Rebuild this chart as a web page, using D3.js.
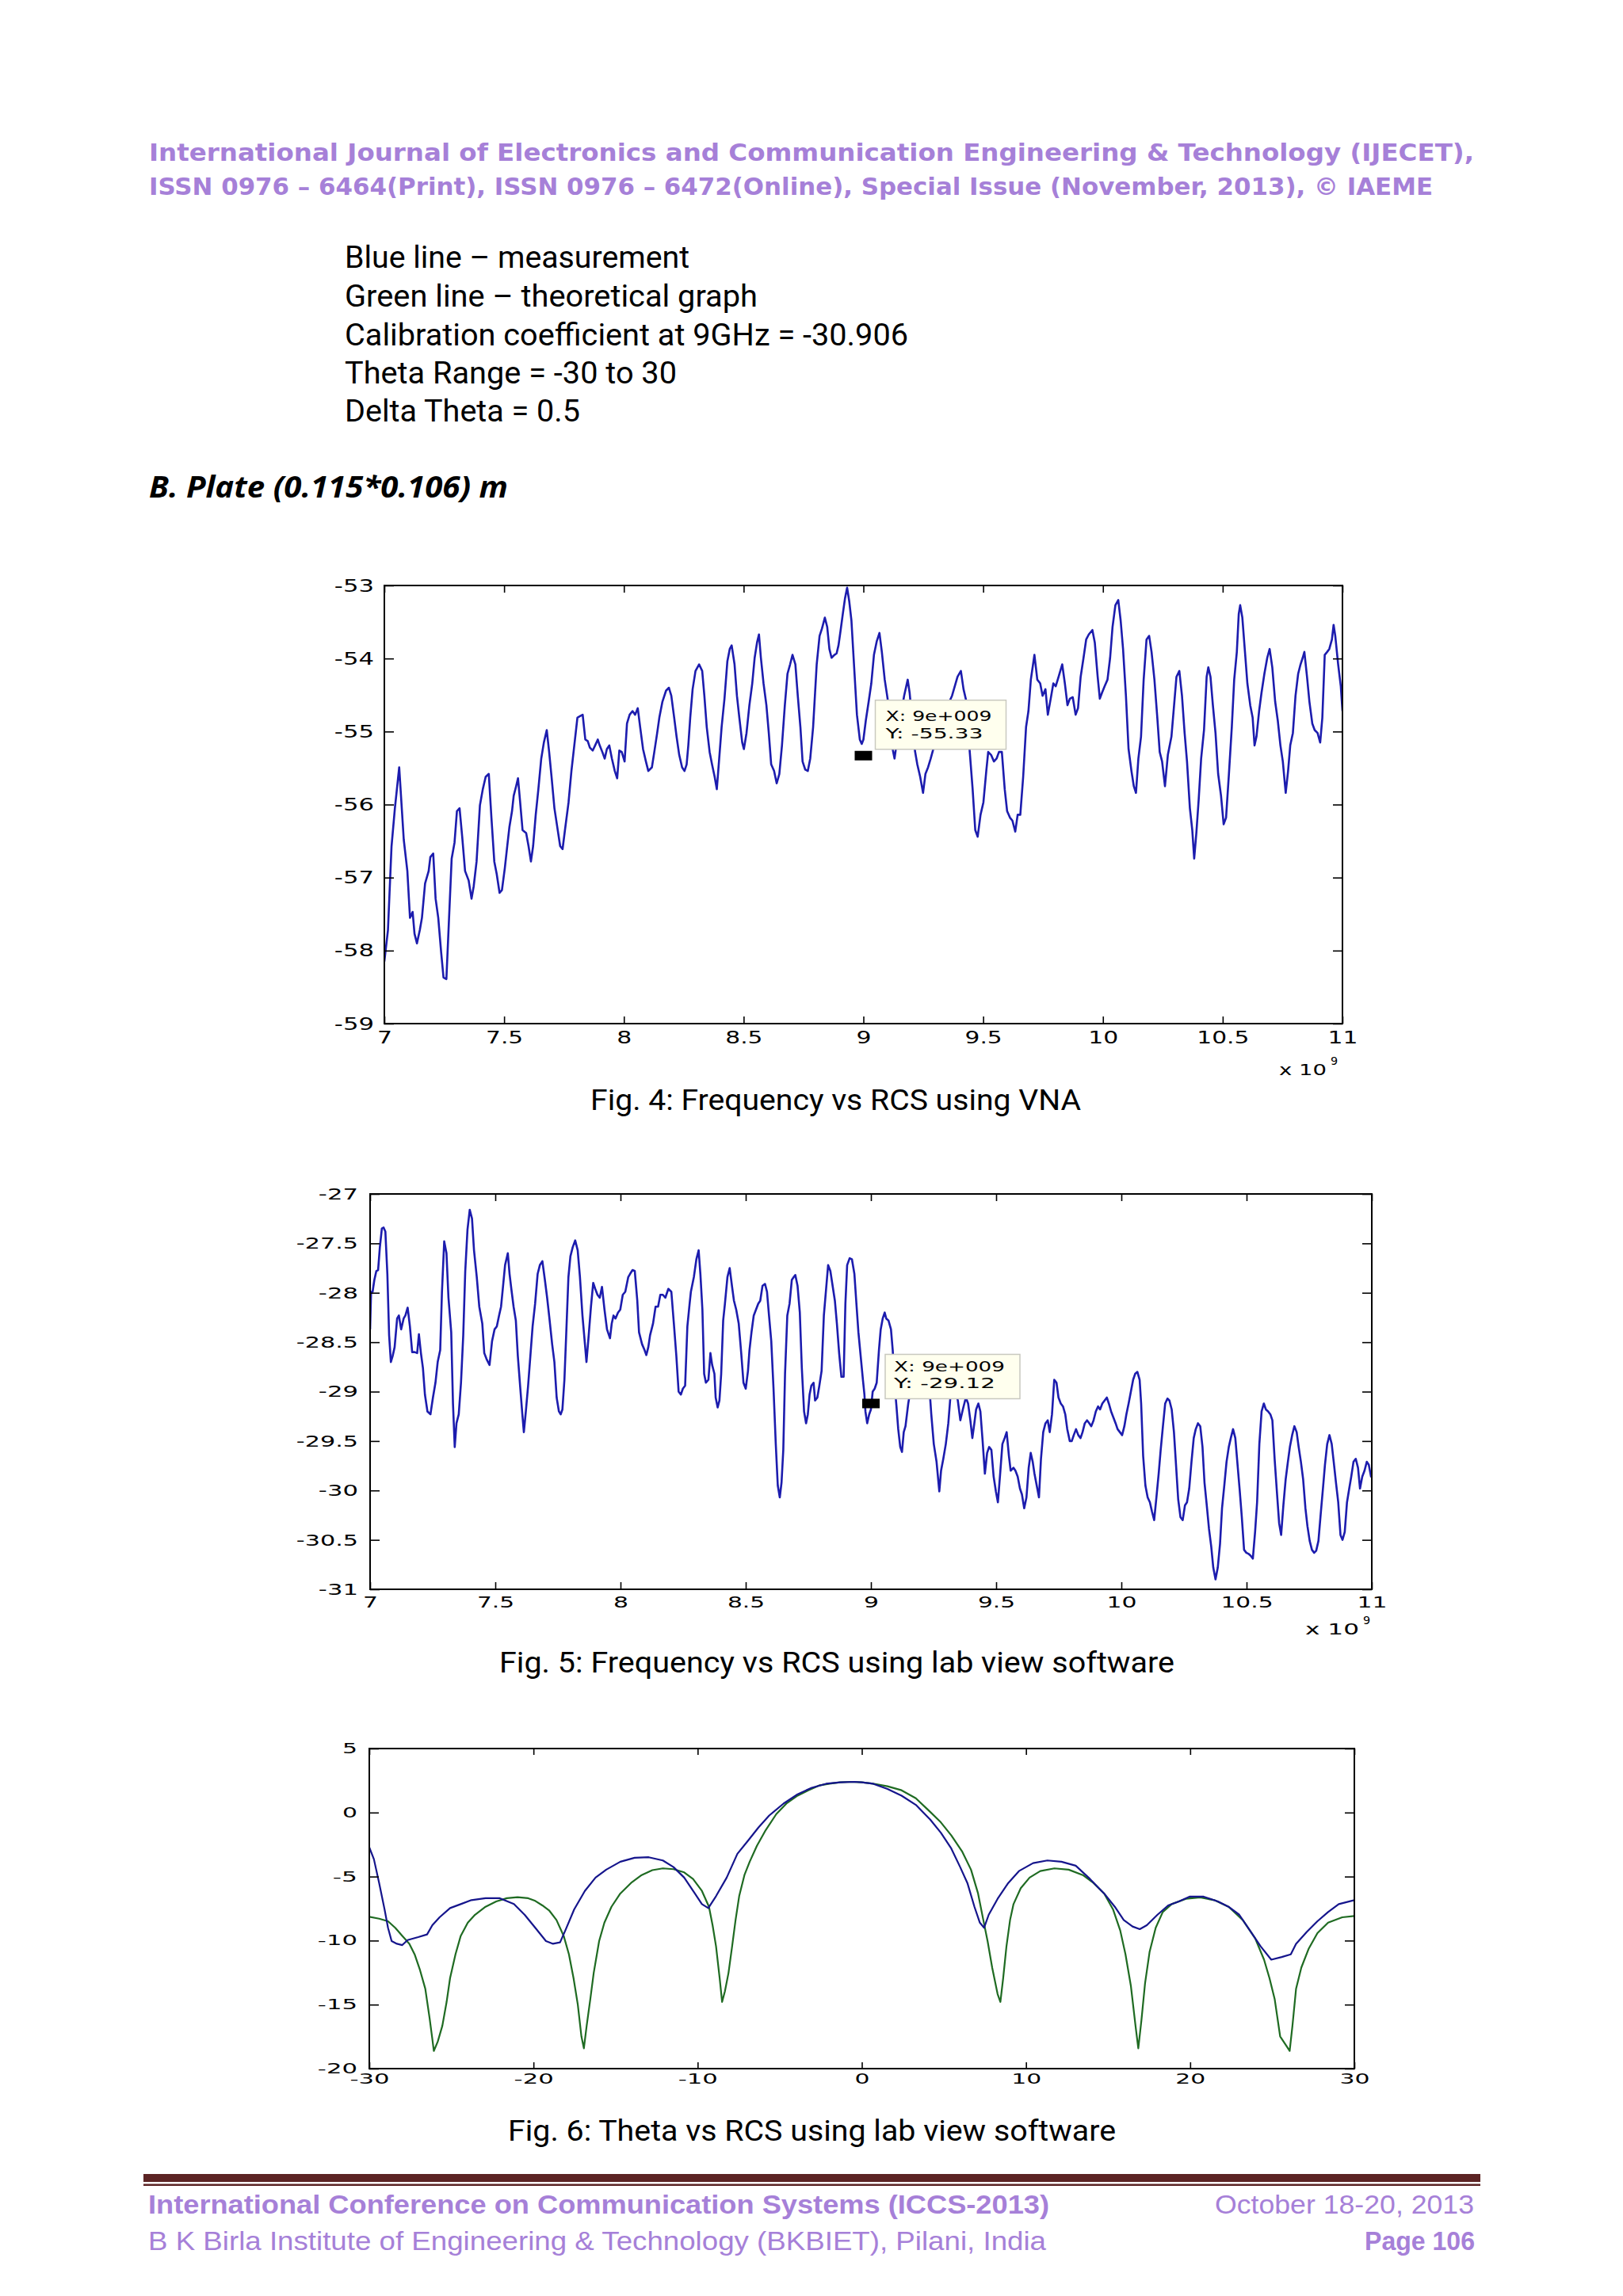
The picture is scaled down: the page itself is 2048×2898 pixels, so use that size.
<!DOCTYPE html>
<html>
<head>
<meta charset="utf-8">
<script src="https://cdn.jsdelivr.net/npm/d3@7"></script>
<style>
  body { margin: 0; background: #fff; }
  svg { display: block; }
</style>
</head>
<body>
<svg id="page" width="2048" height="2898"></svg>
<script>
// page text
var headerLines = [
  "International Journal of Electronics and Communication Engineering & Technology (IJECET),",
  "ISSN 0976 \u2013 6464(Print), ISSN 0976 \u2013 6472(Online), Special Issue (November, 2013), \u00a9 IAEME"
];
var notes = [
  "Blue line \u2013 measurement",
  "Green line \u2013 theoretical graph",
  "Calibration coefficient at 9GHz = -30.906",
  "Theta Range = -30 to 30",
  "Delta Theta = 0.5"
];
var sectionTitle = "B. Plate (0.115*0.106) m";
var captions = [
  "Fig. 4: Frequency vs RCS using VNA",
  "Fig. 5: Frequency vs RCS using lab view software",
  "Fig. 6: Theta vs RCS using lab view software"
];
var footerLeft = ["International Conference on Communication Systems (ICCS-2013)",
                  "B K Birla Institute of Engineering & Technology (BKBIET), Pilani, India"];
var footerRight = ["October 18-20, 2013", "Page 106"];

// Fig. 4 : frequency (GHz) vs RCS (dB), VNA
var fig4Points = [[7.000,-58.15],[7.015,-57.72],[7.030,-56.57],[7.044,-56.05],[7.062,-55.49],[7.081,-56.48],[7.096,-56.91],[7.107,-57.55],[7.118,-57.47],[7.126,-57.77],[7.136,-57.90],[7.148,-57.72],[7.157,-57.55],[7.170,-57.08],[7.185,-56.91],[7.192,-56.72],[7.204,-56.67],[7.214,-57.29],[7.225,-57.55],[7.237,-58.02],[7.247,-58.37],[7.259,-58.39],[7.269,-57.64],[7.281,-56.74],[7.293,-56.52],[7.303,-56.09],[7.314,-56.05],[7.325,-56.44],[7.337,-56.91],[7.352,-57.04],[7.364,-57.29],[7.373,-57.12],[7.385,-56.78],[7.399,-56.01],[7.411,-55.79],[7.423,-55.62],[7.436,-55.58],[7.447,-56.18],[7.459,-56.78],[7.469,-56.95],[7.481,-57.21],[7.491,-57.17],[7.503,-56.87],[7.513,-56.57],[7.522,-56.31],[7.533,-56.09],[7.540,-55.88],[7.550,-55.75],[7.558,-55.64],[7.567,-55.97],[7.577,-56.35],[7.592,-56.39],[7.602,-56.57],[7.612,-56.78],[7.621,-56.57],[7.632,-56.14],[7.643,-55.79],[7.655,-55.37],[7.666,-55.15],[7.678,-54.98],[7.688,-55.28],[7.698,-55.62],[7.710,-56.05],[7.722,-56.31],[7.734,-56.57],[7.744,-56.61],[7.754,-56.35],[7.769,-55.97],[7.781,-55.54],[7.793,-55.19],[7.806,-54.81],[7.817,-54.79],[7.828,-54.77],[7.839,-55.11],[7.849,-55.13],[7.858,-55.22],[7.870,-55.26],[7.880,-55.19],[7.891,-55.11],[7.899,-55.19],[7.910,-55.28],[7.920,-55.37],[7.929,-55.24],[7.939,-55.19],[7.950,-55.37],[7.962,-55.54],[7.972,-55.64],[7.981,-55.26],[7.991,-55.28],[8.003,-55.41],[8.013,-54.89],[8.024,-54.77],[8.036,-54.72],[8.047,-54.77],[8.058,-54.68],[8.068,-54.94],[8.080,-55.24],[8.092,-55.41],[8.102,-55.54],[8.117,-55.49],[8.127,-55.28],[8.139,-55.02],[8.148,-54.81],[8.161,-54.59],[8.176,-54.44],[8.188,-54.40],[8.198,-54.51],[8.210,-54.81],[8.220,-55.07],[8.231,-55.32],[8.243,-55.49],[8.253,-55.54],[8.262,-55.45],[8.269,-55.19],[8.277,-54.81],[8.287,-54.42],[8.299,-54.17],[8.314,-54.08],[8.327,-54.17],[8.336,-54.51],[8.346,-54.94],[8.358,-55.28],[8.368,-55.45],[8.379,-55.62],[8.388,-55.79],[8.398,-55.37],[8.408,-54.94],[8.420,-54.55],[8.432,-54.04],[8.442,-53.87],[8.450,-53.82],[8.462,-54.08],[8.472,-54.51],[8.482,-54.81],[8.494,-55.15],[8.501,-55.24],[8.512,-55.02],[8.524,-54.64],[8.536,-54.34],[8.546,-53.99],[8.556,-53.78],[8.564,-53.67],[8.572,-53.99],[8.583,-54.34],[8.595,-54.64],[8.605,-55.02],[8.615,-55.45],[8.627,-55.54],[8.638,-55.71],[8.649,-55.58],[8.660,-55.19],[8.672,-54.64],[8.683,-54.21],[8.694,-54.08],[8.704,-53.95],[8.716,-54.08],[8.726,-54.51],[8.737,-54.94],[8.746,-55.41],[8.757,-55.52],[8.768,-55.54],[8.778,-55.37],[8.790,-54.94],[8.805,-54.08],[8.817,-53.69],[8.827,-53.59],[8.839,-53.44],[8.849,-53.57],[8.858,-53.87],[8.867,-53.99],[8.879,-53.95],[8.888,-53.93],[8.896,-53.82],[8.905,-53.61],[8.914,-53.39],[8.923,-53.18],[8.932,-53.03],[8.941,-53.22],[8.950,-53.48],[8.963,-54.21],[8.973,-54.77],[8.985,-55.11],[8.993,-55.17],[9.000,-55.11],[9.010,-54.85],[9.022,-54.59],[9.033,-54.34],[9.044,-53.95],[9.056,-53.76],[9.067,-53.65],[9.077,-53.91],[9.089,-54.29],[9.101,-54.55],[9.119,-55.19],[9.130,-55.37],[9.148,-54.94],[9.170,-54.51],[9.185,-54.29],[9.193,-54.47],[9.215,-55.26],[9.225,-55.45],[9.237,-55.62],[9.249,-55.84],[9.259,-55.58],[9.270,-55.49],[9.281,-55.37],[9.296,-55.19],[9.311,-54.94],[9.341,-54.72],[9.370,-54.51],[9.393,-54.25],[9.407,-54.17],[9.418,-54.42],[9.430,-54.59],[9.444,-55.28],[9.456,-55.79],[9.467,-56.35],[9.477,-56.44],[9.489,-56.14],[9.501,-55.97],[9.513,-55.54],[9.521,-55.28],[9.533,-55.32],[9.545,-55.41],[9.556,-55.37],[9.566,-55.28],[9.578,-55.28],[9.590,-55.79],[9.600,-56.09],[9.612,-56.18],[9.622,-56.22],[9.634,-56.37],[9.644,-56.14],[9.655,-56.14],[9.667,-55.62],[9.679,-54.94],[9.689,-54.72],[9.699,-54.29],[9.714,-53.95],[9.726,-54.29],[9.738,-54.34],[9.748,-54.51],[9.760,-54.42],[9.770,-54.77],[9.782,-54.55],[9.793,-54.34],[9.803,-54.38],[9.815,-54.25],[9.830,-54.08],[9.841,-54.34],[9.852,-54.64],[9.862,-54.55],[9.874,-54.53],[9.886,-54.77],[9.896,-54.68],[9.907,-54.25],[9.919,-53.99],[9.930,-53.74],[9.941,-53.67],[9.956,-53.61],[9.966,-53.78],[9.978,-54.25],[9.987,-54.55],[9.996,-54.47],[10.007,-54.38],[10.019,-54.29],[10.030,-53.99],[10.040,-53.57],[10.052,-53.27],[10.064,-53.20],[10.074,-53.48],[10.084,-53.87],[10.096,-54.51],[10.107,-55.24],[10.119,-55.54],[10.129,-55.75],[10.138,-55.84],[10.148,-55.37],[10.159,-55.07],[10.170,-54.29],[10.182,-53.74],[10.193,-53.69],[10.203,-53.91],[10.215,-54.29],[10.227,-54.81],[10.237,-55.28],[10.247,-55.41],[10.259,-55.75],[10.271,-55.32],[10.286,-55.07],[10.296,-54.68],[10.307,-54.25],[10.319,-54.17],[10.330,-54.51],[10.341,-55.02],[10.351,-55.41],[10.363,-56.05],[10.373,-56.35],[10.381,-56.74],[10.390,-56.39],[10.400,-55.92],[10.410,-55.37],[10.422,-54.98],[10.433,-54.25],[10.440,-54.12],[10.449,-54.25],[10.459,-54.64],[10.470,-55.02],[10.481,-55.58],[10.493,-55.88],[10.504,-56.27],[10.514,-56.18],[10.526,-55.58],[10.538,-54.94],[10.548,-54.29],[10.559,-53.91],[10.567,-53.39],[10.573,-53.27],[10.582,-53.44],[10.593,-53.91],[10.603,-54.34],[10.615,-54.64],[10.625,-54.81],[10.633,-55.19],[10.641,-55.07],[10.652,-54.72],[10.662,-54.47],[10.674,-54.21],[10.686,-53.99],[10.696,-53.87],[10.707,-54.12],[10.719,-54.59],[10.730,-54.85],[10.741,-55.19],[10.751,-55.41],[10.763,-55.84],[10.773,-55.54],[10.782,-55.19],[10.793,-55.02],[10.804,-54.51],[10.815,-54.21],[10.825,-54.08],[10.834,-53.99],[10.841,-53.91],[10.852,-54.25],[10.862,-54.59],[10.874,-54.89],[10.884,-54.98],[10.896,-55.02],[10.907,-55.15],[10.916,-54.81],[10.926,-53.95],[10.936,-53.91],[10.945,-53.87],[10.956,-53.74],[10.963,-53.54],[10.970,-53.69],[10.982,-54.08],[10.993,-54.38],[11.000,-54.72]];

// Fig. 5 : frequency (GHz) vs RCS (dB), lab view software
var fig5Points = [[7.000,-28.37],[7.004,-27.99],[7.010,-27.99],[7.017,-27.87],[7.025,-27.78],[7.032,-27.77],[7.039,-27.54],[7.047,-27.35],[7.054,-27.34],[7.061,-27.38],[7.069,-27.81],[7.076,-28.43],[7.083,-28.70],[7.090,-28.64],[7.098,-28.55],[7.108,-28.26],[7.115,-28.23],[7.124,-28.37],[7.134,-28.26],[7.141,-28.23],[7.150,-28.15],[7.159,-28.34],[7.168,-28.60],[7.178,-28.60],[7.188,-28.61],[7.195,-28.42],[7.203,-28.61],[7.211,-28.76],[7.219,-29.03],[7.229,-29.20],[7.241,-29.23],[7.251,-29.06],[7.261,-28.91],[7.270,-28.70],[7.280,-28.58],[7.287,-27.99],[7.296,-27.48],[7.305,-27.60],[7.313,-28.05],[7.324,-28.40],[7.331,-29.12],[7.338,-29.56],[7.345,-29.32],[7.354,-29.23],[7.363,-28.91],[7.372,-28.43],[7.380,-27.78],[7.389,-27.36],[7.398,-27.16],[7.407,-27.25],[7.415,-27.57],[7.426,-27.84],[7.436,-28.14],[7.448,-28.31],[7.456,-28.61],[7.465,-28.67],[7.477,-28.73],[7.487,-28.49],[7.497,-28.37],[7.506,-28.34],[7.515,-28.23],[7.523,-28.14],[7.531,-27.93],[7.539,-27.72],[7.550,-27.60],[7.557,-27.81],[7.564,-27.96],[7.573,-28.14],[7.582,-28.28],[7.590,-28.64],[7.599,-28.94],[7.608,-29.23],[7.614,-29.41],[7.622,-29.20],[7.631,-28.94],[7.640,-28.64],[7.649,-28.34],[7.659,-28.11],[7.669,-27.81],[7.678,-27.72],[7.688,-27.68],[7.698,-27.87],[7.707,-28.05],[7.717,-28.28],[7.727,-28.52],[7.736,-28.70],[7.745,-29.06],[7.754,-29.20],[7.761,-29.23],[7.768,-29.18],[7.776,-28.88],[7.783,-28.43],[7.792,-27.84],[7.800,-27.63],[7.809,-27.54],[7.819,-27.47],[7.829,-27.57],[7.838,-27.84],[7.848,-28.23],[7.859,-28.55],[7.864,-28.70],[7.873,-28.43],[7.882,-28.14],[7.891,-27.90],[7.899,-27.96],[7.908,-28.02],[7.917,-28.05],[7.926,-27.94],[7.936,-28.17],[7.946,-28.37],[7.958,-28.46],[7.965,-28.31],[7.972,-28.23],[7.980,-28.26],[7.990,-28.20],[7.999,-28.17],[8.009,-28.02],[8.019,-27.99],[8.031,-27.84],[8.038,-27.81],[8.048,-27.77],[8.057,-27.78],[8.067,-28.08],[8.074,-28.40],[8.086,-28.52],[8.096,-28.58],[8.103,-28.63],[8.111,-28.55],[8.118,-28.43],[8.130,-28.31],[8.140,-28.14],[8.150,-28.14],[8.159,-28.02],[8.169,-28.02],[8.179,-28.05],[8.191,-27.96],[8.203,-27.99],[8.213,-28.31],[8.223,-28.64],[8.232,-29.00],[8.241,-29.03],[8.249,-28.97],[8.258,-28.94],[8.267,-28.34],[8.276,-28.11],[8.281,-27.99],[8.293,-27.84],[8.303,-27.66],[8.312,-27.57],[8.319,-27.81],[8.327,-28.17],[8.334,-28.82],[8.341,-28.91],[8.351,-28.88],[8.359,-28.61],[8.366,-28.73],[8.375,-28.82],[8.380,-29.06],[8.388,-29.16],[8.395,-29.09],[8.402,-28.82],[8.410,-28.28],[8.417,-28.11],[8.427,-27.84],[8.436,-27.75],[8.445,-27.93],[8.453,-28.08],[8.462,-28.17],[8.472,-28.31],[8.482,-28.61],[8.491,-28.91],[8.500,-28.97],[8.509,-28.79],[8.515,-28.58],[8.523,-28.40],[8.532,-28.23],[8.541,-28.17],[8.550,-28.11],[8.558,-28.08],[8.567,-27.93],[8.577,-27.91],[8.585,-27.99],[8.593,-28.23],[8.602,-28.49],[8.611,-28.97],[8.620,-29.53],[8.628,-29.95],[8.636,-30.07],[8.643,-29.92],[8.650,-29.59],[8.657,-28.82],[8.666,-28.23],[8.675,-28.11],[8.684,-27.87],[8.692,-27.84],[8.698,-27.82],[8.707,-27.93],[8.716,-28.20],[8.724,-28.76],[8.733,-29.20],[8.741,-29.32],[8.748,-29.23],[8.755,-29.03],[8.762,-28.94],[8.771,-28.91],[8.777,-29.09],[8.786,-29.06],[8.794,-28.94],[8.803,-28.79],[8.812,-28.23],[8.821,-27.96],[8.829,-27.72],[8.838,-27.78],[8.847,-27.93],[8.856,-28.08],[8.864,-28.31],[8.873,-28.61],[8.882,-28.85],[8.891,-28.85],[8.898,-28.11],[8.905,-27.72],[8.915,-27.65],[8.924,-27.66],[8.934,-27.81],[8.942,-28.11],[8.950,-28.40],[8.959,-28.64],[8.968,-28.88],[8.974,-29.03],[8.978,-29.20],[8.985,-29.32],[8.993,-29.23],[9.000,-29.18],[9.007,-29.00],[9.015,-28.97],[9.023,-28.91],[9.032,-28.58],[9.039,-28.37],[9.047,-28.26],[9.055,-28.20],[9.061,-28.26],[9.070,-28.28],[9.080,-28.37],[9.087,-28.58],[9.095,-28.94],[9.102,-29.15],[9.109,-29.38],[9.117,-29.56],[9.124,-29.61],[9.131,-29.41],[9.138,-29.35],[9.149,-29.12],[9.157,-29.00],[9.175,-28.94],[9.204,-28.88],[9.233,-28.94],[9.241,-29.23],[9.251,-29.53],[9.262,-29.71],[9.273,-30.01],[9.280,-29.80],[9.289,-29.68],[9.299,-29.53],[9.309,-29.32],[9.318,-29.03],[9.328,-29.00],[9.338,-29.00],[9.347,-29.09],[9.357,-29.29],[9.367,-29.18],[9.379,-29.06],[9.388,-29.12],[9.397,-29.29],[9.405,-29.47],[9.413,-29.32],[9.420,-29.18],[9.429,-29.12],[9.437,-29.20],[9.446,-29.50],[9.455,-29.83],[9.464,-29.62],[9.472,-29.56],[9.481,-29.59],[9.490,-29.86],[9.499,-30.01],[9.507,-30.12],[9.516,-29.83],[9.525,-29.53],[9.534,-29.47],[9.542,-29.41],[9.551,-29.65],[9.558,-29.80],[9.569,-29.77],[9.577,-29.80],[9.586,-29.86],[9.595,-29.98],[9.603,-30.04],[9.612,-30.18],[9.621,-30.07],[9.630,-29.77],[9.638,-29.62],[9.646,-29.71],[9.653,-29.83],[9.662,-29.95],[9.671,-30.07],[9.679,-29.68],[9.688,-29.41],[9.697,-29.32],[9.706,-29.29],[9.714,-29.41],[9.723,-29.23],[9.732,-28.88],[9.741,-28.91],[9.749,-29.06],[9.758,-29.12],[9.767,-29.15],[9.776,-29.23],[9.784,-29.38],[9.794,-29.50],[9.802,-29.50],[9.810,-29.44],[9.819,-29.38],[9.828,-29.44],[9.837,-29.47],[9.845,-29.41],[9.854,-29.32],[9.863,-29.29],[9.872,-29.32],[9.880,-29.35],[9.889,-29.29],[9.898,-29.20],[9.907,-29.15],[9.915,-29.18],[9.924,-29.12],[9.933,-29.09],[9.942,-29.06],[9.950,-29.12],[9.959,-29.20],[9.968,-29.26],[9.977,-29.32],[9.985,-29.38],[9.994,-29.41],[10.003,-29.44],[10.012,-29.35],[10.020,-29.23],[10.029,-29.12],[10.038,-29.00],[10.047,-28.88],[10.055,-28.82],[10.064,-28.80],[10.073,-28.88],[10.079,-29.12],[10.087,-29.65],[10.096,-29.95],[10.105,-30.07],[10.114,-30.12],[10.122,-30.21],[10.131,-30.30],[10.140,-30.07],[10.149,-29.83],[10.157,-29.59],[10.166,-29.35],[10.175,-29.12],[10.184,-29.07],[10.192,-29.09],[10.201,-29.18],[10.210,-29.41],[10.219,-29.77],[10.227,-30.09],[10.236,-30.27],[10.245,-30.30],[10.254,-30.15],[10.262,-30.12],[10.271,-29.98],[10.280,-29.71],[10.289,-29.47],[10.297,-29.38],[10.306,-29.32],[10.315,-29.35],[10.324,-29.56],[10.332,-29.92],[10.341,-30.15],[10.350,-30.39],[10.359,-30.57],[10.367,-30.78],[10.376,-30.90],[10.385,-30.78],[10.394,-30.54],[10.402,-30.18],[10.411,-29.95],[10.420,-29.71],[10.429,-29.56],[10.437,-29.47],[10.446,-29.38],[10.455,-29.47],[10.464,-29.74],[10.472,-29.98],[10.481,-30.27],[10.490,-30.60],[10.499,-30.63],[10.507,-30.64],[10.516,-30.66],[10.525,-30.69],[10.534,-30.42],[10.542,-30.12],[10.551,-29.53],[10.560,-29.20],[10.569,-29.12],[10.577,-29.18],[10.586,-29.20],[10.595,-29.23],[10.603,-29.29],[10.612,-29.68],[10.621,-30.01],[10.630,-30.33],[10.638,-30.45],[10.647,-30.15],[10.656,-29.89],[10.665,-29.71],[10.673,-29.56],[10.682,-29.44],[10.691,-29.35],[10.700,-29.41],[10.708,-29.56],[10.717,-29.71],[10.726,-29.89],[10.735,-30.18],[10.743,-30.36],[10.752,-30.51],[10.761,-30.60],[10.770,-30.63],[10.778,-30.61],[10.787,-30.51],[10.796,-30.24],[10.805,-29.98],[10.813,-29.74],[10.822,-29.53],[10.831,-29.44],[10.840,-29.53],[10.848,-29.71],[10.857,-29.92],[10.866,-30.12],[10.875,-30.45],[10.883,-30.50],[10.892,-30.42],[10.901,-30.12],[10.910,-29.98],[10.918,-29.86],[10.927,-29.71],[10.936,-29.68],[10.945,-29.77],[10.953,-29.98],[10.962,-29.86],[10.971,-29.80],[10.980,-29.71],[10.988,-29.74],[10.997,-29.86],[11.000,-29.80]];

// Fig. 6 : theta (deg) vs RCS (dB)
var fig6Measured = [[-30.00,-2.71],[-29.72,-3.64],[-29.40,-5.50],[-29.07,-7.56],[-28.86,-9.00],[-28.64,-10.04],[-28.32,-10.25],[-27.99,-10.35],[-27.67,-9.96],[-27.02,-9.73],[-26.48,-9.52],[-26.16,-8.80],[-25.72,-8.18],[-25.08,-7.46],[-24.43,-7.15],[-23.78,-6.84],[-22.92,-6.69],[-22.05,-6.69],[-21.19,-7.15],[-20.54,-7.98],[-19.89,-9.00],[-19.24,-10.04],[-18.81,-10.25],[-18.38,-10.14],[-18.06,-9.21],[-17.52,-7.56],[-16.87,-6.12],[-16.22,-5.08],[-15.57,-4.46],[-14.71,-3.84],[-13.84,-3.53],[-12.98,-3.49],[-12.12,-3.74],[-11.47,-4.26],[-10.82,-5.08],[-10.17,-6.32],[-9.74,-7.15],[-9.35,-7.46],[-8.88,-6.53],[-8.23,-5.08],[-7.58,-3.22],[-6.93,-2.19],[-6.29,-1.16],[-5.64,-0.23],[-4.77,0.70],[-3.91,1.43],[-3.05,1.94],[-2.18,2.25],[-1.32,2.36],[-0.45,2.40],[0.00,2.36],[0.69,2.25],[1.56,1.84],[2.42,1.32],[3.29,0.60],[4.16,-0.54],[4.81,-1.57],[5.45,-2.81],[5.99,-4.26],[6.43,-5.50],[6.86,-7.36],[7.19,-8.60],[7.45,-9.00],[7.73,-7.98],[8.27,-6.74],[8.92,-5.50],[9.57,-4.57],[10.43,-3.95],[11.30,-3.74],[12.16,-3.84],[13.03,-4.15],[13.90,-5.19],[14.76,-6.32],[15.41,-7.36],[15.95,-8.39],[16.49,-8.90],[16.93,-9.11],[17.36,-8.80],[18.01,-7.98],[18.66,-7.25],[19.31,-6.94],[19.96,-6.57],[20.82,-6.57],[21.69,-6.94],[22.34,-7.36],[22.99,-7.98],[23.64,-9.21],[24.29,-10.45],[24.94,-11.49],[25.58,-11.28],[26.13,-11.07],[26.45,-10.25],[27.10,-9.32],[27.75,-8.49],[28.40,-7.77],[29.05,-7.15],[30.00,-6.84]];
var fig6Theory = [[-30.00,-8.14],[-29.40,-8.29],[-28.86,-8.49],[-28.42,-9.00],[-27.99,-9.63],[-27.56,-10.25],[-27.24,-11.07],[-26.91,-12.31],[-26.59,-13.76],[-26.33,-16.03],[-26.16,-17.69],[-26.07,-18.62],[-25.83,-17.89],[-25.55,-16.65],[-25.29,-14.79],[-25.08,-12.93],[-24.75,-11.07],[-24.43,-9.63],[-24.00,-8.60],[-23.56,-7.98],[-22.92,-7.36],[-22.27,-6.94],[-21.62,-6.69],[-20.97,-6.61],[-20.32,-6.69],[-19.89,-6.90],[-19.46,-7.25],[-19.03,-7.67],[-18.60,-8.39],[-18.16,-9.63],[-17.84,-11.07],[-17.56,-12.93],[-17.30,-15.00],[-17.08,-17.48],[-16.93,-18.41],[-16.76,-16.65],[-16.54,-14.59],[-16.33,-12.52],[-16.00,-10.04],[-15.68,-8.60],[-15.25,-7.36],[-14.71,-6.32],[-14.06,-5.50],[-13.41,-4.88],[-12.76,-4.50],[-12.12,-4.36],[-11.47,-4.42],[-10.82,-4.67],[-10.28,-5.19],[-9.74,-6.12],[-9.31,-7.36],[-9.09,-8.80],[-8.88,-10.45],[-8.66,-12.93],[-8.51,-14.79],[-8.34,-13.97],[-8.12,-12.52],[-7.90,-10.45],[-7.69,-8.39],[-7.47,-6.53],[-7.15,-4.88],[-6.83,-3.84],[-6.39,-2.60],[-5.85,-1.36],[-5.21,-0.12],[-4.56,0.74],[-3.91,1.32],[-3.26,1.74],[-2.61,2.11],[-1.97,2.25],[-1.32,2.36],[-0.67,2.40],[0.00,2.36],[0.69,2.25],[1.56,2.05],[2.42,1.74],[3.29,1.12],[4.16,0.06],[4.81,-0.76],[5.45,-1.78],[6.10,-3.02],[6.65,-4.46],[7.08,-6.32],[7.40,-8.39],[7.66,-10.04],[7.94,-12.11],[8.27,-14.17],[8.44,-14.79],[8.61,-12.93],[8.81,-10.45],[9.03,-8.39],[9.24,-7.15],[9.68,-5.91],[10.22,-5.08],[10.87,-4.57],[11.73,-4.36],[12.60,-4.46],[13.46,-4.88],[14.11,-5.50],[14.76,-6.32],[15.30,-7.56],[15.74,-9.21],[16.06,-11.07],[16.39,-13.55],[16.67,-16.65],[16.84,-18.41],[17.03,-16.24],[17.25,-13.35],[17.53,-10.87],[17.90,-9.00],[18.33,-7.77],[18.87,-7.15],[19.74,-6.74],[20.61,-6.63],[21.47,-6.84],[22.34,-7.36],[23.20,-8.39],[23.96,-9.83],[24.50,-11.49],[24.83,-12.93],[25.15,-14.59],[25.48,-17.48],[25.80,-18.10],[26.06,-18.62],[26.23,-16.65],[26.45,-13.76],[26.77,-12.11],[27.21,-10.66],[27.75,-9.42],[28.40,-8.60],[29.26,-8.18],[30.00,-8.08]];

// ticks
var freqTicks = [7, 7.5, 8, 8.5, 9, 9.5, 10, 10.5, 11];
var fig4YTicks = [-53, -54, -55, -56, -57, -58, -59];
var fig5YTicks = [-27, -27.5, -28, -28.5, -29, -29.5, -30, -30.5, -31];
var thetaTicks = [-30, -20, -10, 0, 10, 20, 30];
var fig6YTicks = [5, 0, -5, -10, -15, -20];

// data tips
var fig4Tip = {x: 9, y: -55.33, lines: ["X: 9e+009", "Y: -55.33"]};
var fig5Tip = {x: 9, y: -29.12, lines: ["X: 9e+009", "Y: -29.12"]};

var purple = "#a680d8";
var svg = d3.select("#page");
svg.append("rect").attr("width", 2048).attr("height", 2898).attr("fill", "#fff");

// text squeezed / stretched to the width measured on the page
function fitText(str, x, y, w, size, family, weight, style, color, anchor) {
  return svg.append("text")
    .attr("x", x).attr("y", y)
    .attr("font-family", family)
    .attr("font-size", size)
    .attr("font-weight", weight || "normal")
    .attr("font-style", style || "normal")
    .attr("fill", color || "#000")
    .attr("text-anchor", anchor || "start")
    .attr("textLength", w)
    .attr("lengthAdjust", "spacingAndGlyphs")
    .text(str);
}

// header
var headFont = "'DejaVu Sans', Verdana, sans-serif";
fitText(headerLines[0], 188, 203, 1672, 31, headFont, "bold", null, purple);
fitText(headerLines[1], 188, 246, 1620, 31, headFont, "bold", null, purple);

// notes
var bodyFont = "Roboto, 'Open Sans', sans-serif";
var noteWidths = [435, 521, 711, 419, 297];
var noteBase = [338, 387, 436, 484, 532];
notes.forEach(function(s, i) {
  fitText(s, 435, noteBase[i], noteWidths[i], 38, bodyFont);
});
fitText(sectionTitle, 188, 628, 453, 38, "'Open Sans', Roboto, sans-serif", "bold", "italic");

// captions
var capX = [745, 630, 641], capW = [619, 852, 767], capY = [1401, 2111, 2702];
captions.forEach(function(s, i) {
  fitText(s, capX[i], capY[i], capW[i], 37, bodyFont);
});

// footer
var footFont = "'Liberation Sans', Arial, sans-serif";
svg.append("rect").attr("x", 181).attr("y", 2744).attr("width", 1687).attr("height", 10).attr("fill", "#5c2424");
svg.append("rect").attr("x", 181).attr("y", 2756.5).attr("width", 1687).attr("height", 2.5).attr("fill", "#5c2424");
fitText(footerLeft[0], 187, 2794, 1137, 33, footFont, "bold", null, purple);
fitText(footerLeft[1], 187, 2840, 1133, 33, footFont, "normal", null, purple);
fitText(footerRight[0], 1533, 2794, 327, 33, footFont, "normal", null, purple);
fitText(footerRight[1], 1722, 2840, 139, 33, footFont, "bold", null, purple);

// matlab-like tick labels: wide glyphs
var tickFont = "'DejaVu Sans', Verdana, sans-serif";
function labelWidth(s, dw) {
  var w = 0;
  for (var i = 0; i < s.length; i++) {
    var c = s.charAt(i);
    if (c === ".") w += dw * 0.48;
    else if (c === "-") w += dw * 0.64;
    else w += dw;
  }
  return w;
}

function drawChart(cfg) {
  var g = svg.append("g");
  var x = d3.scaleLinear().domain(cfg.xDomain).range([cfg.left, cfg.right]);
  var y = d3.scaleLinear().domain(cfg.yDomain).range([cfg.bottom, cfg.top]);
  var fmt = function(d) { return String(d); };

  var clipId = "clip-" + cfg.id;
  svg.append("clipPath").attr("id", clipId).append("rect")
    .attr("x", cfg.left).attr("y", cfg.top)
    .attr("width", cfg.right - cfg.left).attr("height", cfg.bottom - cfg.top);

  var line = d3.line()
    .x(function(d) { return x(d[0]); })
    .y(function(d) { return y(d[1]); });

  cfg.series.forEach(function(s) {
    g.append("path")
      .datum(s.data)
      .attr("clip-path", "url(#" + clipId + ")")
      .attr("fill", "none")
      .attr("stroke", s.color)
      .attr("stroke-width", s.width)
      .attr("stroke-linejoin", "round")
      .attr("d", line);
  });

  // data tip
  if (cfg.tip) {
    var t = cfg.tip, px = x(t.x), py = y(t.y);
    g.append("rect")
      .attr("x", px + t.dx).attr("y", py + t.dy)
      .attr("width", t.w).attr("height", t.h)
      .attr("fill", "#ffffee").attr("stroke", "#c9c9c0").attr("stroke-width", 1.5);
    t.lines.forEach(function(s, i) {
      g.append("text")
        .attr("x", px + t.dx + t.pad).attr("y", py + t.dy + t.base[i])
        .attr("font-family", tickFont).attr("font-size", t.size)
        .attr("textLength", t.tw[i]).attr("lengthAdjust", "spacingAndGlyphs")
        .attr("fill", "#000").text(s);
    });
    g.append("rect")
      .attr("x", px - 11).attr("y", py - 6)
      .attr("width", 22).attr("height", 12)
      .attr("fill", "#000");
  }

  function styleAxis(sel, withLabels) {
    sel.select(".domain").remove();
    sel.selectAll(".tick line").attr("stroke", "#000").attr("stroke-width", 1.6);
    sel.attr("font-family", tickFont).attr("font-size", cfg.fontSize);
    if (withLabels) {
      sel.selectAll(".tick text")
        .attr("fill", "#000")
        .each(function(d) {
          d3.select(this)
            .attr("textLength", labelWidth(fmt(d), cfg.digitW))
            .attr("lengthAdjust", "spacingAndGlyphs");
        });
    }
  }

  var ax = g.append("g").attr("transform", "translate(0," + cfg.bottom + ")")
    .call(d3.axisBottom(x).tickValues(cfg.xTicks).tickFormat(fmt)
      .tickSizeInner(-cfg.xTickLen).tickSizeOuter(0).tickPadding(cfg.xPad));
  styleAxis(ax, true);
  var axTop = g.append("g").attr("transform", "translate(0," + cfg.top + ")")
    .call(d3.axisTop(x).tickValues(cfg.xTicks).tickFormat("")
      .tickSizeInner(-cfg.xTickLen).tickSizeOuter(0));
  styleAxis(axTop, false);
  var ay = g.append("g").attr("transform", "translate(" + cfg.left + ",0)")
    .call(d3.axisLeft(y).tickValues(cfg.yTicks).tickFormat(fmt)
      .tickSizeInner(-cfg.yTickLen).tickSizeOuter(0).tickPadding(cfg.yPad));
  styleAxis(ay, true);
  var ayR = g.append("g").attr("transform", "translate(" + cfg.right + ",0)")
    .call(d3.axisRight(y).tickValues(cfg.yTicks).tickFormat("")
      .tickSizeInner(-cfg.yTickLen).tickSizeOuter(0));
  styleAxis(ayR, false);

  // plot frame
  g.append("rect")
    .attr("x", cfg.left).attr("y", cfg.top)
    .attr("width", cfg.right - cfg.left).attr("height", cfg.bottom - cfg.top)
    .attr("fill", "none").attr("stroke", "#000").attr("stroke-width", 2);

  // x 10^9 multiplier
  if (cfg.expo) {
    var e = cfg.expo;
    g.append("text").attr("x", e.x).attr("y", e.y)
      .attr("font-family", tickFont).attr("font-size", e.size)
      .attr("textLength", e.w).attr("lengthAdjust", "spacingAndGlyphs")
      .text("x 10");
    g.append("text").attr("x", e.x + e.w + 5).attr("y", e.y - 13)
      .attr("font-family", tickFont).attr("font-size", e.size * 0.72)
      .text("9");
  }
}

var blue = "#1c1cae";

drawChart({
  id: "fig4", left: 485, right: 1694, top: 739, bottom: 1292,
  xDomain: [7, 11], yDomain: [-59, -53],
  xTicks: freqTicks, yTicks: fig4YTicks,
  fontSize: 22, digitW: 19, xPad: 9, yPad: 13, xTickLen: 9, yTickLen: 12,
  series: [{data: fig4Points, color: blue, width: 2.6}],
  tip: {x: fig4Tip.x, y: fig4Tip.y, lines: fig4Tip.lines, dx: 15, dy: -70, w: 165, h: 62,
        pad: 13, base: [26, 48], size: 18, tw: [134, 123]},
  expo: {x: 1614, y: 1357, w: 60, size: 20}
});

drawChart({
  id: "fig5", left: 467, right: 1731, top: 1507, bottom: 2006,
  xDomain: [7, 11], yDomain: [-31, -27],
  xTicks: freqTicks, yTicks: fig5YTicks,
  fontSize: 20, digitW: 19, xPad: 9, yPad: 15, xTickLen: 9, yTickLen: 12,
  series: [{data: fig5Points, color: blue, width: 2.6}],
  tip: {x: fig5Tip.x, y: fig5Tip.y, lines: fig5Tip.lines, dx: 18, dy: -62, w: 170, h: 56,
        pad: 11, base: [22, 43], size: 17, tw: [140, 128]},
  expo: {x: 1647, y: 2063, w: 68, size: 20}
});

drawChart({
  id: "fig6", left: 466, right: 1709, top: 2207, bottom: 2611,
  xDomain: [-30, 30], yDomain: [-20, 5],
  xTicks: thetaTicks, yTicks: fig6YTicks,
  fontSize: 17, digitW: 19, xPad: 7, yPad: 15, xTickLen: 8, yTickLen: 12,
  series: [
    {data: fig6Theory, color: "#1f6b22", width: 2.2},
    {data: fig6Measured, color: "#15158c", width: 2.2}
  ]
});
</script>
</body>
</html>
